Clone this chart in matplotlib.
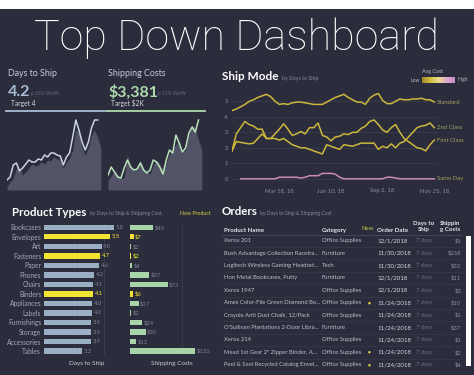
import matplotlib
matplotlib.use("Agg")
import matplotlib.pyplot as plt
import numpy as np
import pandas as pd
from matplotlib.colors import LinearSegmentedColormap
from matplotlib.patches import Rectangle

# -----------------------
# Datos
# -----------------------
BG = "#2b2c3c"
W, H = 474, 375

# sparklines (unidades arbitrarias)
dias_linea = [10, 13, 25, 27, 19, 22, 26, 30, 28, 28, 31, 30, 35, 33, 37, 37, 35, 34,
              25, 33, 37, 53, 70, 60, 48, 40, 48, 62, 70, 70]
dias_area = [3, 8, 12, 22, 22, 15, 18, 22, 26, 24, 25, 28, 26, 30, 29, 33, 31, 30,
             22, 28, 32, 40, 60, 58, 42, 35, 42, 55, 60, 52, 42]
costo_linea = [15, 23, 18, 13, 12, 22, 30, 23, 20, 21, 27, 20, 17, 20, 30, 28, 23, 16,
               30, 40, 37, 55, 47, 38, 42, 57, 63, 58, 70]
costo_area = [10, 14, 20, 15, 12, 12, 35, 25, 20, 22, 30, 22, 18, 16, 25, 30, 26, 20,
              28, 35, 42, 45, 50, 38, 40, 55, 65, 62, 50, 40]

# ship mode (semanal)
semanas = pd.date_range("2017-12-31", periods=48, freq="7D")
standard = [4.4, 4.5, 4.65, 4.8, 5.0, 5.1, 5.25, 5.35, 5.45, 5.3, 5.0, 4.8, 4.85, 4.8,
            4.9, 4.95, 4.95, 4.9, 4.85, 4.8, 4.8, 4.8, 4.95, 5.1, 5.25, 5.35, 5.45, 5.25,
            5.1, 4.95, 4.95, 4.8, 5.2, 5.4, 5.5, 5.05, 4.85, 4.85, 5.0, 5.15, 5.1, 5.1,
            5.15, 5.15, 5.2, 5.1, 5.1, 4.95]
second = [1.8, 2.9, 3.3, 3.7, 3.5, 3.4, 3.2, 3.2, 2.6, 2.6, 2.6, 2.5, 2.6, 2.4, 2.2,
          2.1, 2.0, 2.0, 1.9, 1.8, 1.7, 1.6, 2.2, 2.1, 2.0, 1.9, 2.2, 2.15, 2.1, 2.2,
          2.3, 2.3, 2.3, 2.3, 1.9, 2.1, 2.0, 2.25, 2.0, 2.3, 2.4, 2.7, 3.0, 3.3, 3.4,
          3.45, 3.6, 3.3]
first = [1.8, 2.4, 2.35, 2.3, 2.25, 2.3, 2.6, 2.9, 2.6, 2.6, 2.9, 3.2, 3.55, 3.2, 2.8,
         2.9, 3.05, 2.9, 3.3, 3.3, 3.6, 2.8, 2.7, 2.45, 2.7, 2.75, 2.9, 2.85, 3.0, 3.0,
         3.25, 3.4, 3.7, 3.8, 3.5, 3.15, 3.0, 3.3, 3.5, 3.0, 2.6, 2.4, 2.2, 2.0, 1.95,
         1.8, 2.2, 2.5]
same_day = [np.nan, np.nan, 0, 0, 0, 0, 0, 0, 0, 0, 0, 0.1, 0.1, 0.1, 0.1, 0.1, 0.05,
            0.1, 0.2, 0.2, 0.2, 0.35, 0.35, 0.35, 0.3, 0.1, 0, 0, 0, 0, 0, 0, 0, 0, 0,
            0, 0.1, 0.1, 0.05, 0, 0, 0, 0, 0, 0, 0, 0, 0]
ticks_fecha = pd.to_datetime(["2018-03-18", "2018-06-10", "2018-09-02", "2018-11-25"])
ticks_label = ["Mar 18, 18", "Jun 10, 18", "Sep 2, 18", "Nov 25, 18"]

# product types
productos = ["Bookcases", "Envelopes", "Art", "Fasteners", "Paper", "Phones", "Chairs",
             "Binders", "Appliances", "Labels", "Furnishings", "Storage", "Accessories",
             "Tables"]
dias_envio = [5.8, 5.5, 4.8, 4.7, 4.6, 4.2, 4.1, 4.1, 4.0, 4.0, 3.9, 3.9, 3.9, 3.2]
costo_envio = [45, 7, 2, 2, 4, 37, 73, 6, 17, 2, 24, 30, 12, 126]
nuevo = [False, True, False, True, False, False, False, True, False, False, False,
         False, False, False]

# orders
ord_nombre = ["Xerox 201", "Bush Advantage Collection Racetra...",
              "Logitech Wireless Gaming Headset...", "Hon Metal Bookcases, Putty",
              "Xerox 1947", "Ames Color-File Green Diamond Bo...",
              "Crayola Anti Dust Chalk, 12/Pack", "O'Sullivan Plantations 2-Door Libra...",
              "Xerox 214", "Mead 1st Gear 2\" Zipper Binder, A...",
              "Peel & Seel Recycled Catalog Envel..."]
ord_categoria = ["Office Supplies", "Furniture", "Tech", "Furniture", "Office Supplies",
                 "Office Supplies", "Office Supplies", "Furniture", "Office Supplies",
                 "Office Supplies", "Office Supplies"]
ord_nuevo = [False, False, False, False, False, True, False, False, False, True, True]
ord_fecha = ["12/1/2018", "11/30/2018", "11/30/2018", "12/1/2018", "12/1/2018",
             "11/24/2018", "11/24/2018", "11/24/2018", "11/24/2018", "11/24/2018",
             "11/24/2018"]
ord_dias = ["7 days"] * 11
ord_costo = ["$1", "$268", "$33", "$11", "$3", "$10", "$1", "$37", "$1", "$2", "$4"]

# -----------------------
# Helpers
# -----------------------
plt.rcParams["font.family"] = ["Lato", "DejaVu Sans"]
fig = plt.figure(figsize=(W / 100, H / 100), dpi=100)
fig.patch.set_facecolor("white")
fig.patches.append(Rectangle((0, 0), 1, 1 - 9 / H, transform=fig.transFigure,
                             facecolor=BG, edgecolor="none", zorder=-10))


def txt(x, y, s, **kw):
    kw.setdefault("va", "center")
    return fig.text(x / W, 1 - y / H, s, **kw)


def caja(x0, y0, x1, y1):
    return fig.add_axes([x0 / W, 1 - y1 / H, (x1 - x0) / W, (y1 - y0) / H])


def limpiar(ax):
    ax.set_facecolor("none")
    for s in ax.spines.values():
        s.set_visible(False)
    ax.tick_params(length=0)


def hline(x0, x1, y, **kw):
    fig.add_artist(plt.Line2D([x0 / W, x1 / W], [1 - y / H, 1 - y / H],
                              transform=fig.transFigure, **kw))


# -----------------------
# Titulo
# -----------------------
txt(237, 38, "Top Down Dashboard", ha="center", color="white", fontsize=31,
    fontweight="light", family=["Roboto", "DejaVu Sans"])

# -----------------------
# KPIs
# -----------------------
azul = "#a9bdd6"
verde = "#aedaae"
txt(8, 73, "Days to Ship", color="#c5cdd9", fontsize=6.4)
txt(8, 92, "4.2", color=azul, fontsize=11.5, fontweight="bold")
txt(31, 93.5, "p 18% WoW", color="#6a6e80", fontsize=3.5)
txt(11, 103.5, "Target 4", color="#d8d8e0", fontsize=4.8)
hline(6, 104, 110.5, color=azul, lw=1.3)

txt(108, 73, "Shipping Costs", color="#c5cdd9", fontsize=6.4)
txt(108, 92, "$3,381", color=verde, fontsize=11.5, fontweight="bold")
txt(158, 93.5, "p 11% WoW", color="#6a6e80", fontsize=3.5)
txt(111, 103.5, "Target $2K", color="#d8d8e0", fontsize=4.8)
hline(106, 205, 110.5, color=verde, lw=1.3)

for (x0, x1), linea, area, col in [((7, 104), dias_linea, dias_area, "#c8d4e4"),
                                   ((108, 205), costo_linea, costo_area, "#b8e2b8")]:
    ax = caja(x0, 110, x1, 190)
    limpiar(ax)
    ax.fill_between(range(len(area)), area, color="#525366", lw=0)
    ax.plot(range(len(linea)), linea, color=col, lw=1.1)
    ax.set_xlim(0, len(area))
    ax.set_ylim(0, 80)
    ax.set_xticks([])
    ax.set_yticks([])

# -----------------------
# Ship Mode
# -----------------------
txt(222, 77, "Ship Mode", color="white", fontsize=8.5, fontweight="bold")
txt(282, 78.5, "by Days to Ship", color="#8a8e9e", fontsize=3.8)
txt(432, 72, "Avg Cost", color="#c0c0c8", fontsize=3.8, ha="center")
txt(420, 80, "Low", color="#c0c0c8", fontsize=3.6, ha="right")
txt(457, 80, "High", color="#c0c0c8", fontsize=3.6, ha="left")
cmap = LinearSegmentedColormap.from_list(
    "avg", ["#9c8a2c", "#d4bc3c", "#e8dc8c", "#dcaad2", "#c48cc0"])
axg = caja(422, 77, 455, 83)
axg.imshow(np.linspace(0, 1, 100)[None, :], aspect="auto", cmap=cmap)
axg.axis("off")

ax = caja(232, 92, 438, 185)
limpiar(ax)
amarillo = "#cdb83c"
ax.plot(semanas, standard, color=amarillo, lw=1.1)
ax.plot(semanas, second, color=amarillo, lw=1.1)
ax.plot(semanas, first, color=amarillo, lw=1.1)
ax.plot(semanas, same_day, color="#c98bb9", lw=1.1)
etq = "#a39d64"
for serie, nombre in [(standard, "Standard"), (second, "2nd Class"),
                      (first, "First Class"), (same_day, "Same Day")]:
    ax.annotate(nombre, (semanas[-1], serie[-1]), xytext=(2, 0),
                textcoords="offset points", va="center", color=etq, fontsize=4.3,
                annotation_clip=False)
ax.set_xlim(pd.Timestamp("2017-12-31"), pd.Timestamp("2018-12-01"))
ax.set_ylim(-0.4, 5.6)
ax.set_yticks(range(6))
ax.set_yticklabels([str(i) for i in range(6)], color="#8a8e9e", fontsize=4.3)
ax.set_xticks(ticks_fecha)
ax.set_xticklabels(ticks_label, color="#8a8e9e", fontsize=4.3)
ax.tick_params(axis="y", pad=3)
ax.tick_params(axis="x", pad=2)
ax.grid(axis="y", color="#3a3c4e", lw=0.6)
ax.set_axisbelow(True)

# -----------------------
# Product Types
# -----------------------
txt(12, 212, "Product Types", color="white", fontsize=8.3, fontweight="bold")
txt(90, 213.5, "by Days to Ship & Shipping Cost,", color="#8a8e9e", fontsize=3.6)
txt(180, 213.5, "New Product", color="#d8d040", fontsize=3.8)

n = len(productos)
y = np.arange(n)
gris = "#9aaec4"
ama = "#f4e432"
verde_b = "#a8d5a8"

axd = caja(44, 222.6, 128, 355.8)
limpiar(axd)
cols_d = [ama if nv else gris for nv in nuevo]
axd.barh(y, dias_envio, height=0.55, color=cols_d)
for i, v in enumerate(dias_envio):
    axd.text(v + 0.15, i, f"{v:.1f}", va="center", fontsize=4.2,
             color=ama if nuevo[i] else "#7d8293")
axd.set_xlim(0, 7)
axd.set_ylim(n - 0.5, -0.5)
axd.set_xticks([2.5, 5])
axd.set_xticklabels([])
axd.grid(axis="x", color="#3c3e50", lw=0.6)
axd.set_axisbelow(True)
axd.set_yticks(y)
axd.set_yticklabels(productos, fontsize=4.8, color="#a5a9b8")
axd.tick_params(axis="y", pad=2)

axc = caja(130, 222.6, 213, 355.8)
limpiar(axc)
cols_c = [ama if nv else verde_b for nv in nuevo]
axc.barh(y, costo_envio, height=0.55, color=cols_c)
for i, v in enumerate(costo_envio):
    axc.text(v + 2.5, i, f"${v}", va="center", fontsize=4.2,
             color=ama if nuevo[i] else "#7d8293")
axc.set_xlim(0, 160)
axc.set_ylim(n - 0.5, -0.5)
axc.set_xticks([100])
axc.set_xticklabels([])
axc.set_yticks([])
axc.grid(axis="x", color="#3c3e50", lw=0.6)
axc.set_axisbelow(True)

txt(87, 363, "Days to Ship", color="#c8ccd6", fontsize=4.6, ha="center")
txt(172, 363, "Shipping Costs", color="#c8ccd6", fontsize=4.6, ha="center")

# -----------------------
# Orders
# -----------------------
txt(222, 211.5, "Orders", color="white", fontsize=8.3, fontweight="bold")
txt(260, 213.5, "by Days to Ship & Shipping Cost", color="#8a8e9e", fontsize=3.6)

hy = 230.5
txt(224, hy, "Product Name", color="#e6e6ec", fontsize=4.4, fontweight="bold")
txt(322, hy, "Category", color="#e6e6ec", fontsize=4.4, fontweight="bold")
txt(362, hy - 1.5, "New", color="#c8d040", fontsize=4.2)
txt(377, hy, "Order Date", color="#e6e6ec", fontsize=4.4, fontweight="bold")
txt(424, 226.5, "Days to\nShip", color="#e6e6ec", fontsize=4.4, fontweight="bold",
    ha="center", linespacing=1.3)
txt(450, 226.5, "Shippin\ng Costs", color="#e6e6ec", fontsize=4.4, fontweight="bold",
    ha="center", linespacing=1.3)
hline(222, 462, 234.5, color="#4a4c5e", lw=0.6)

paso = 12.4
for i in range(len(ord_nombre)):
    yy = 240.7 + i * paso
    txt(224, yy, ord_nombre[i], color="#bfc1ca", fontsize=4.2)
    txt(322, yy, ord_categoria[i], color="#bfc1ca", fontsize=4.2)
    if ord_nuevo[i]:
        txt(369, yy, "\u25cf", color="#f0e040", fontsize=3.5, ha="center")
    txt(377, yy, ord_fecha[i], color="#d8d8e0", fontsize=4.4)
    txt(424, yy, ord_dias[i], color="#6a6e80", fontsize=4.2, ha="center")
    txt(461, yy, ord_costo[i], color="#8a8e9e", fontsize=4.2, ha="right")
    if i < len(ord_nombre) - 1:
        hline(222, 462, yy + paso / 2, color="#383a4b", lw=0.5)

fig.patches.append(Rectangle((466 / W, 1 - 366 / H), 4.5 / W, 130 / H,
                             transform=fig.transFigure, facecolor="white",
                             edgecolor="none"))

fig.savefig("out.png", dpi=100, facecolor=fig.get_facecolor())
